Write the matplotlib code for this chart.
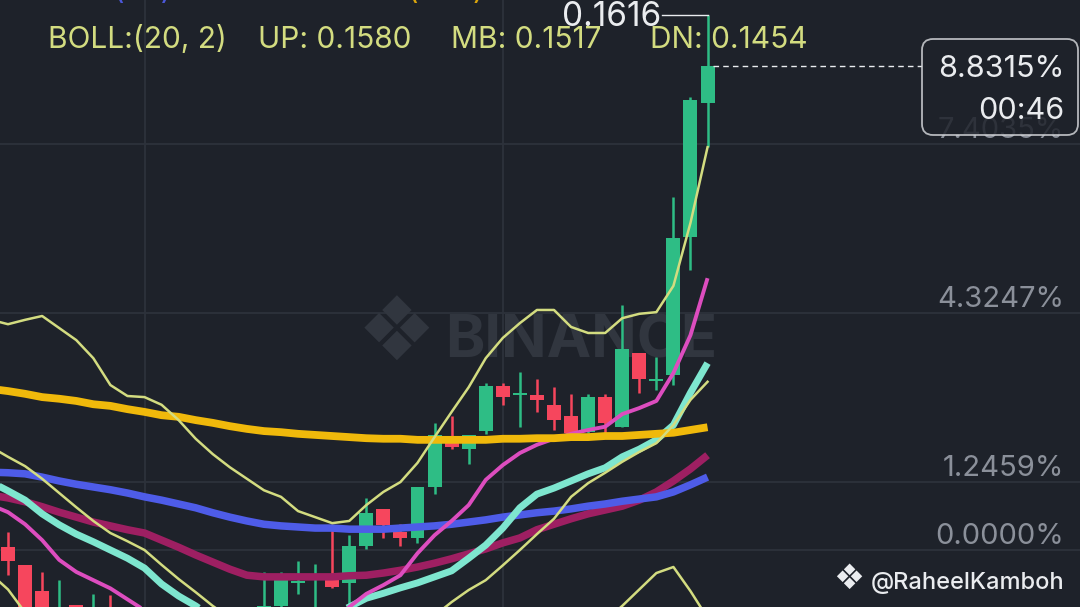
import matplotlib
matplotlib.use("Agg")
import matplotlib.pyplot as plt
from matplotlib.patches import FancyBboxPatch
from matplotlib.transforms import IdentityTransform, blended_transform_factory

plt.rcParams['font.family'] = ['Inter', 'DejaVu Sans']

# ---- data (percent change vs. range start), candle 0 sits just off the left edge
opens = [0.40, 0.055, -0.27, -0.75, -1.50, -1.01, -1.30, -1.10, -1.50, -1.80,
         -1.70, -1.90, -1.70, -1.85, -1.60, -1.75, -1.40, -1.02, -0.60, -1.20,
         -0.55, -0.60, 0.07, 0.75, 0.33, 0.22, 1.15, 1.95, 1.84, 2.17,
         2.99, 2.83, 2.83, 2.65, 2.45, 2.15, 2.79, 2.25, 3.60, 3.08,
         3.19, 5.71, 8.16]
highs = [0.55, 0.33, -0.27, -0.40, -0.55, -1.00, -0.80, -0.82, -1.30, -1.50,
         -1.50, -1.45, -1.50, -1.45, -1.40, -1.30, -0.40, -0.40, -0.20, -0.26,
         0.37, 0.27, 0.95, 0.75, 0.47, 1.15, 2.32, 2.45, 2.10, 3.05,
         3.05, 3.25, 3.12, 2.97, 2.85, 2.85, 2.85, 4.47, 3.60, 3.52,
         6.44, 8.27, 9.76]
lows = [-0.05, -0.46, -1.45, -1.55, -1.70, -1.60, -1.50, -1.70, -1.90, -2.00,
        -2.10, -2.00, -2.00, -1.95, -1.90, -1.85, -1.60, -1.20, -0.80, -1.30,
        -0.70, -1.10, 0.02, 0.22, 0.07, 0.13, 1.02, 1.84, 1.57, 2.12,
        2.65, 2.25, 2.52, 2.19, 2.12, 2.14, 2.10, 2.25, 2.87, 2.92,
        3.01, 5.11, 7.35]
closes = [0.08, -0.20, -1.20, -1.30, -1.10, -1.40, -1.10, -1.50, -1.80, -1.70,
          -1.90, -1.70, -1.85, -1.60, -1.75, -1.50, -1.02, -0.55, -0.56, -1.10,
          -0.68, 0.07, 0.68, 0.46, 0.22, 1.15, 2.10, 1.88, 2.10, 2.99,
          2.79, 2.86, 2.74, 2.37, 2.14, 2.79, 2.32, 3.67, 3.12, 3.12,
          5.69, 8.21, 8.8315]

boll_up = [4.20, 4.12, 4.20, 4.27, 4.05, 3.83, 3.50, 3.01, 2.81, 2.79,
           2.65, 2.37, 2.03, 1.75, 1.51, 1.30, 1.09, 0.97, 0.71, 0.60,
           0.49, 0.53, 0.82, 1.06, 1.24, 1.59, 2.06, 2.52, 2.97, 3.50,
           3.87, 4.14, 4.38, 4.38, 4.07, 3.96, 3.96, 4.23, 4.31, 4.34,
           4.82, 5.97, 7.35]
boll_mb = [1.88, 1.70, 1.53, 1.30, 1.04, 0.78, 0.53, 0.31, 0.16, 0.00,
           -0.27, -0.53, -0.77, -1.02, -1.24, -1.42, -1.59, -1.72, -1.82, -1.88,
           -1.90, -1.84, -1.75, -1.64, -1.51, -1.37, -1.20, -0.95, -0.73, -0.55,
           -0.28, 0.00, 0.29, 0.57, 0.97, 1.22, 1.41, 1.61, 1.79, 1.95,
           2.28, 2.74, 3.07]
boll_dn = [-0.44, -0.72, -1.14, -1.67, -1.97, -2.27, -2.44, -2.39, -2.49, -2.79,
           -3.19, -3.43, -3.57, -3.79, -3.99, -4.14, -4.17, -4.16, -4.15, -4.10,
           -4.04, -3.96, -3.93, -3.84, -3.75, -3.60, -3.38, -3.19, -2.92, -2.64,
           -2.43, -2.28, -2.00, -1.68, -1.55, -1.50, -1.30, -1.02, -0.72, -0.42,
           -0.31, -0.75, -1.24]
ma_pink = [0.82, 0.69, 0.47, 0.18, -0.18, -0.40, -0.55, -0.70, -0.90, -1.10,
           -1.28, -1.46, -1.61, -1.73, -1.83, -1.86, -1.83, -1.73, -1.61, -1.46,
           -1.28, -1.04, -0.80, -0.64, -0.46, -0.06, 0.27, 0.53, 0.82, 1.28,
           1.55, 1.77, 1.92, 2.03, 2.12, 2.19, 2.25, 2.48, 2.59, 2.72,
           3.23, 3.92, 4.96]
ma_cyan = [1.24, 1.08, 0.91, 0.66, 0.46, 0.29, 0.15, 0.00, -0.15, -0.33,
           -0.62, -0.84, -1.02, -1.24, -1.42, -1.57, -1.64, -1.68, -1.64, -1.57,
           -1.19, -1.04, -0.88, -0.79, -0.69, -0.60, -0.49, -0.38, -0.15, 0.09,
           0.40, 0.77, 1.02, 1.13, 1.26, 1.39, 1.50, 1.70, 1.84, 2.01,
           2.28, 2.87, 3.41]
ma_maroon = [1.00, 0.95, 0.88, 0.79, 0.69, 0.60, 0.51, 0.44, 0.37, 0.31,
             0.18, 0.05, -0.09, -0.22, -0.35, -0.46, -0.49, -0.49, -0.49, -0.49,
             -0.49, -0.47, -0.46, -0.42, -0.37, -0.31, -0.24, -0.16, -0.07, 0.02,
             0.13, 0.22, 0.37, 0.47, 0.57, 0.66, 0.73, 0.80, 0.91, 1.06,
             1.26, 1.48, 1.73]
ema_blue = [1.42, 1.41, 1.39, 1.33, 1.26, 1.20, 1.15, 1.10, 1.04, 0.97,
            0.91, 0.84, 0.77, 0.68, 0.60, 0.53, 0.47, 0.44, 0.42, 0.40,
            0.40, 0.38, 0.38, 0.38, 0.40, 0.42, 0.44, 0.47, 0.51, 0.55,
            0.60, 0.64, 0.68, 0.71, 0.75, 0.80, 0.84, 0.89, 0.93, 0.97,
            1.06, 1.19, 1.33]
ema_orange = [2.94, 2.90, 2.85, 2.79, 2.76, 2.72, 2.66, 2.63, 2.57, 2.52,
              2.46, 2.43, 2.37, 2.32, 2.26, 2.21, 2.17, 2.15, 2.12, 2.10,
              2.08, 2.06, 2.04, 2.03, 2.03, 2.01, 2.01, 2.01, 2.01, 2.01,
              2.03, 2.03, 2.04, 2.04, 2.06, 2.06, 2.08, 2.08, 2.10, 2.12,
              2.14, 2.19, 2.24]

grid_levels = [0.0, 1.2459, 4.3247, 7.4035]
grid_labels = ["0.0000%", "1.2459%", "4.3247%", "7.4035%"]
boll_items = ["BOLL:(20, 2)", "UP: 0.1580", "MB: 0.1517", "DN: 0.1454"]
ema_items = ["EMA(99): 0.1487", "EMA(200): 0.1503"]
high_label = "0.1616"
last_label = "8.8315%"
countdown = "00:46"
author = "@RaheelKamboh"

BG = '#1e222a'
GRID = '#2d323b'
UP_C = '#2ebd85'
DOWN_C = '#f6465d'
BOLL_C = '#d3dc80'
LABEL_C = '#8b909a'
WHITE = '#eaecef'

x = list(range(len(closes)))

fig = plt.figure(figsize=(10.8, 6.07), dpi=100)
fig.patch.set_facecolor(BG)
ax = fig.add_axes([0, 0, 1, 1])
ax.set_facecolor(BG)
ax.set_xlim(0.53, 63.83)
ax.set_ylim(-1.04, 10.036)
ax.axis('off')

# grid
for lv in grid_levels:
    ax.axhline(lv, color=GRID, lw=1.3, zorder=0)
for v in [9, 30]:
    ax.axvline(v, color=GRID, lw=1.3, zorder=0)

# watermark
ax.text(396 / 1080, 1 - 336 / 607, "\u2756", transform=fig.transFigure,
        fontsize=64, color='#31363f', ha='center', va='center',
        family='DejaVu Sans', zorder=0.5)
ax.text(445 / 1080, 1 - 358 / 607, "BINANCE", transform=fig.transFigure,
        fontsize=43, fontweight='bold', color='#31363f', ha='left',
        va='baseline', zorder=0.5)

# candles
for i in x:
    o, h, l, c = opens[i], highs[i], lows[i], closes[i]
    col = UP_C if c >= o else DOWN_C
    ax.vlines(i, l, h, color=col, lw=1.8, zorder=2)
    ax.bar(i, max(abs(c - o), 0.04), bottom=min(o, c), width=0.82,
           color=col, zorder=2)

# indicator lines
ax.plot(x, ma_maroon, color='#9e1f62', lw=5.4, solid_capstyle='butt', zorder=3)
ax.plot(x, ema_blue, color='#4e5ce8', lw=5.4, solid_capstyle='butt', zorder=3)
ax.plot(x, ma_cyan, color='#7ee6cf', lw=5.0, solid_capstyle='butt', zorder=3)
ax.plot(x, ma_pink, color='#dd4dbf', lw=2.8, solid_capstyle='butt', zorder=3)
ax.plot(x, ema_orange, color='#f0b90b', lw=5.6, solid_capstyle='butt', zorder=3)
for band in (boll_up, boll_mb, boll_dn):
    ax.plot(x, band, color=BOLL_C, lw=1.8, zorder=4)

# right scale labels
trans = blended_transform_factory(ax.transAxes, ax.transData)
for lv, lab in zip(grid_levels, grid_labels):
    ax.annotate(lab, xy=(1064 / 1080, lv), xycoords=trans, xytext=(0, 4.2),
                textcoords='offset points', ha='right', va='baseline',
                color=LABEL_C, fontsize=21, zorder=5)

# high marker
ax.plot([x[-1] - 2.65, x[-1]], [highs[-1], highs[-1]], color=WHITE, lw=1.0, zorder=5)
ax.annotate(high_label, xy=(x[-1] - 2.7, highs[-1]), xytext=(0, -8),
            textcoords='offset points', ha='right', va='baseline',
            color=WHITE, fontsize=24, zorder=5)

# last price line and box
ax.plot([x[-1] + 0.3, 54.55], [closes[-1], closes[-1]], color=WHITE,
        lw=1.0, ls=(0, (4, 3)), zorder=5)
box = FancyBboxPatch((922, 607 - 135), 156, 96,
                     boxstyle='round,pad=0,rounding_size=11',
                     transform=IdentityTransform(), facecolor=BG, alpha=0.85,
                     edgecolor='#d0d2d6', lw=1.3, zorder=6)
fig.add_artist(box)
fig.text(1064 / 1080, 1 - 77 / 607, last_label, ha='right', va='baseline',
         color=WHITE, fontsize=22, zorder=7)
fig.text(1064 / 1080, 1 - 119 / 607, countdown, ha='right', va='baseline',
         color=WHITE, fontsize=22, zorder=7)

# header rows (the upper one is cut by the top edge, as in the screenshot)
for xp, item, col in zip([50, 344], ema_items, ['#4b57d8', '#d9a40c']):
    fig.text(xp / 1080, 1 + 1 / 607, item, ha='left', va='baseline',
             color=col, fontsize=21)
for xp, item in zip([48, 258, 451, 650], boll_items):
    fig.text(xp / 1080, 1 - 48 / 607, item, ha='left', va='baseline',
             color=BOLL_C, fontsize=21.5)

# author tag
fig.text(849 / 1080, 1 - 579 / 607, "\u2756", ha='center', va='center',
         color=WHITE, fontsize=25, family='DejaVu Sans')
fig.text(1064 / 1080, 1 - 589 / 607, author, ha='right', va='baseline',
         color=WHITE, fontsize=17, fontweight='medium')

fig.savefig("out.png", dpi=100, facecolor=BG)
